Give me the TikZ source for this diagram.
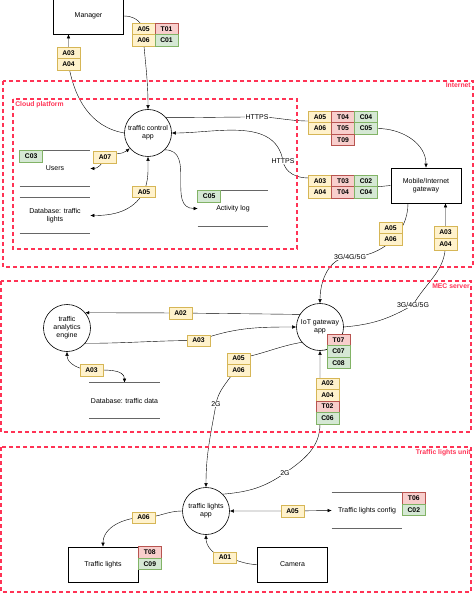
\documentclass[tikz,border=0pt]{standalone}
\usepackage{fontspec}
\setmainfont{Liberation Sans}
\usetikzlibrary{positioning,arrows.meta,backgrounds}
\definecolor{zonered}{RGB}{255,51,85}
\definecolor{yfill}{HTML}{FFF2CC}\definecolor{ydraw}{HTML}{D6B656}
\definecolor{rfill}{HTML}{F8CECC}\definecolor{rdraw}{HTML}{B85450}
\definecolor{gfill}{HTML}{D5E8D4}\definecolor{gdraw}{HTML}{82B366}

\begin{document}
\begin{tikzpicture}[x=1pt,y=1pt,font=\fontsize{7}{8}\selectfont,>={Latex[length=4pt,width=3.4pt]},line width=0.6pt,
  proc/.style={draw,circle,minimum size=47pt,inner sep=0pt,align=center},
  ext/.style={draw,minimum width=70pt,minimum height=35pt,align=center},
  store/.style={minimum width=70pt,minimum height=35pt,inner sep=0pt,align=center},
  tag/.style={draw,line width=0.5pt,minimum width=23pt,minimum height=11.5pt,inner sep=0pt,outer sep=0pt,font=\fontsize{6.8}{8}\selectfont\bfseries},
  atag/.style={tag,fill=yfill,draw=ydraw},
  ttag/.style={tag,fill=rfill,draw=rdraw},
  ctag/.style={tag,fill=gfill,draw=gdraw},
  zone/.style={draw=zonered,line width=1.1pt,dash pattern=on 4pt off 3pt},
  zlbl/.style={text=zonered,font=\fontsize{6.8}{8}\selectfont\bfseries,inner sep=1pt},
  elbl/.style={fill=white,inner sep=0.5pt},
  dsline/.style={draw=black!60,line width=1pt}]
  \useasboundingbox (0,0) rectangle (474,-593);

  \draw[zone] (3,-81) rectangle (473,-267);
  \node[zlbl,anchor=north east] (lint) at (472,-82) {Internet};
  \draw[zone] (13,-99) rectangle (297,-249);
  \node[zlbl,anchor=north west] (lcld) at (14,-100) {Cloud platform};
  \draw[zone] (1,-281) rectangle (471,-432);
  \node[zlbl,anchor=north east] (lmec) at (471,-282) {MEC server};
  \draw[zone] (1,-447) rectangle (471,-592);
  \node[zlbl,anchor=north east] (ltlu) at (472,-448) {Traffic lights unit};

  \node[ext,minimum height=36pt] (mgr) at (88.5,-16) {Manager};
  \node[proc] (tca) at (148,-133) {traffic control\\app};
  \node[ext] (gw) at (426,-185.5) {Mobile/Internet\\gateway};
  \node[proc] (iot) at (320,-327) {IoT gateway\\app};
  \node[proc] (tae) at (67,-328) {traffic\\analytics\\engine};
  \node[proc] (tla) at (206,-511) {traffic lights\\app};
  \node[ext] (tl) at (103,-564.5) {Traffic lights};
  \node[ext] (cam) at (292.5,-564.5) {Camera};

  \node[store] (usr) at (55,-168.5) {Users};
  \node[store] (dbtl) at (55,-215.5) {Database: traffic\\lights};
  \node[store] (act) at (233,-208.5) {Activity log};
  \node[store] (dbtd) at (124.5,-400.5) {Database: traffic data};
  \node[store] (cfg) at (367,-510.5) {Traffic lights config};
  \foreach \s in {usr,dbtl,act,dbtd,cfg}
    \draw[dsline] (\s.north west) -- (\s.north east) (\s.south west) -- (\s.south east);

  \node[atag] (a03m) at (68.5,-53) {A03};
  \node[atag,below=0pt of a03m] (a04m) {A04};
  \node[atag] (a05m) at (143.5,-29) {A05};
  \node[ttag,right=0pt of a05m] (t01m) {T01};
  \node[atag,below=0pt of a05m] (a06m) {A06};
  \node[ctag,below=0pt of t01m] (c01m) {C01};

  \node[ctag,anchor=north west] (c03) at (usr.north west) {C03};
  \node[atag] (a07) at (105,-157.5) {A07};
  \node[atag] (a05d) at (144,-192) {A05};
  \node[ctag,anchor=north west] (c05) at (act.north west) {C05};

  \node[atag] (a05i) at (320,-117) {A05};
  \node[ttag,right=0pt of a05i] (t04i) {T04};
  \node[ctag,right=0pt of t04i] (c04i) {C04};
  \node[atag,below=0pt of a05i] (a06i) {A06};
  \node[ttag,below=0pt of t04i] (t05i) {T05};
  \node[ctag,below=0pt of c04i] (c05i) {C05};
  \node[ttag,below=0pt of t05i] (t09i) {T09};
  \node[atag] (a03g) at (320,-181) {A03};
  \node[ttag,right=0pt of a03g] (t03g) {T03};
  \node[ctag,right=0pt of t03g] (c02g) {C02};
  \node[atag,below=0pt of a03g] (a04g) {A04};
  \node[ttag,below=0pt of t03g] (t04g) {T04};
  \node[ctag,below=0pt of c02g] (c04g) {C04};
  \node[atag] (a05g) at (390.5,-228) {A05};
  \node[atag,below=0pt of a05g] (a06g) {A06};
  \node[atag] (a03n) at (445.5,-232.5) {A03};
  \node[atag,below=0pt of a03n] (a04n) {A04};

  \node[atag] (a02e) at (180.5,-313) {A02};
  \node[atag] (a03e) at (198.5,-340.5) {A03};
  \node[atag] (a03d) at (91.5,-370) {A03};
  \node[ttag,anchor=north west] (t07) at (327,-334) {T07};
  \node[ctag,below=0pt of t07] (c07) {C07};
  \node[ctag,below=0pt of c07] (c08) {C08};
  \node[atag] (a05t) at (238.5,-358.5) {A05};
  \node[atag,below=0pt of a05t] (a06t) {A06};
  \node[atag] (a02c) at (327.5,-383.5) {A02};
  \node[atag,below=0pt of a02c] (a04c) {A04};
  \node[ttag,below=0pt of a04c] (t02c) {T02};
  \node[ctag,below=0pt of t02c] (c06c) {C06};

  \node[atag] (a06l) at (143.5,-517.5) {A06};
  \node[atag] (a05l) at (292.5,-511) {A05};
  \node[atag] (a01) at (225,-557.5) {A01};
  \node[ttag,anchor=north west] (t08) at (tl.north east) {T08};
  \node[ctag,below=0pt of t08] (c09) {C09};
  \node[ttag,anchor=north west] (t06) at (cfg.north east) {T06};
  \node[ctag,below=0pt of t06] (c02c) {C02};

  \node[elbl] (https1) at (257,-117) {HTTPS};
  \node[elbl] (https2) at (283,-161) {HTTPS};
  \node[elbl] (g3a) at (350,-257) {3G/4G/5G};
  \node[elbl] (g3b) at (413,-305) {3G/4G/5G};
  \node[elbl] (g2a) at (216,-404) {2G};
  \node[elbl] (g2b) at (285,-473) {2G};

  \begin{scope}[on background layer]
    \draw[->] (mgr.east) to[out=0,in=110] (a05m.center) (a06m.center) to[out=-85,in=90] (tca.north);
    \draw[->] (tca.west) to[out=170,in=-80] (a04m.center) -- (a03m.center |- mgr.south);
    \draw[->] (tca.40) to[out=0,in=180] (https1.center) to[out=0,in=180] ([yshift=-4pt]a05i.west) (c05i.east) to[out=0,in=90] (gw.north);
    \draw[->] (gw.west) -- (c02g.south east) ([yshift=3pt]a03g.west) to[out=180,in=-80] (https2.center) to[out=100,in=0] (tca.east);
    \draw[<->] (usr.east) to[out=0,in=-110] (a07.center) to[out=30,in=220] (tca.220);
    \draw[<->] (dbtl.east) to[out=0,in=-120] (a05d.center) to[out=70,in=-90] (tca.south);
    \draw[->] (tca.-45) to[out=0,in=180,looseness=1.2] (act.west);
    \draw[->] ([xshift=-18pt]gw.south) to[out=-90,in=0] (g3a.center) to[out=180,in=90] (iot.north);
    \draw[->] (iot.east) to[out=5,in=-150] (g3b.center) to[out=60,in=-90] (a04n.center) -- (a03n.center |- gw.south);
    \draw[->] (iot.148) -- (a02e.center) -- (tae.40);
    \draw[->] (tae.-40) to[out=0,in=180] (a03e.center) to[out=20,in=180] (iot.west);
    \draw[<->] (tae.south) to[out=-90,in=180] (a03d.center) to[out=0,in=90] (dbtd.north);
    \draw[->] (iot.220) to[out=190,in=10] (a05t.center) to[out=-100,in=80] (g2a.center) to[out=-100,in=90] (tla.north);
    \draw[->] (tla.45) to[out=5,in=-145] (g2b.center) to[out=35,in=-90] (c06c.south -| iot.south) -- (iot.south);
    \draw[->] (tla.west) to[out=180,in=0] (a06l.center) to[out=180,in=90] (tl.north);
    \draw[<->] (tla.east) -- (a05l.center) -- (cfg.west);
    \draw[->] (cam.west) to[out=180,in=-10] (a01.center) to[out=170,in=-90] (tla.south);
  \end{scope}
\end{tikzpicture}
\end{document}
